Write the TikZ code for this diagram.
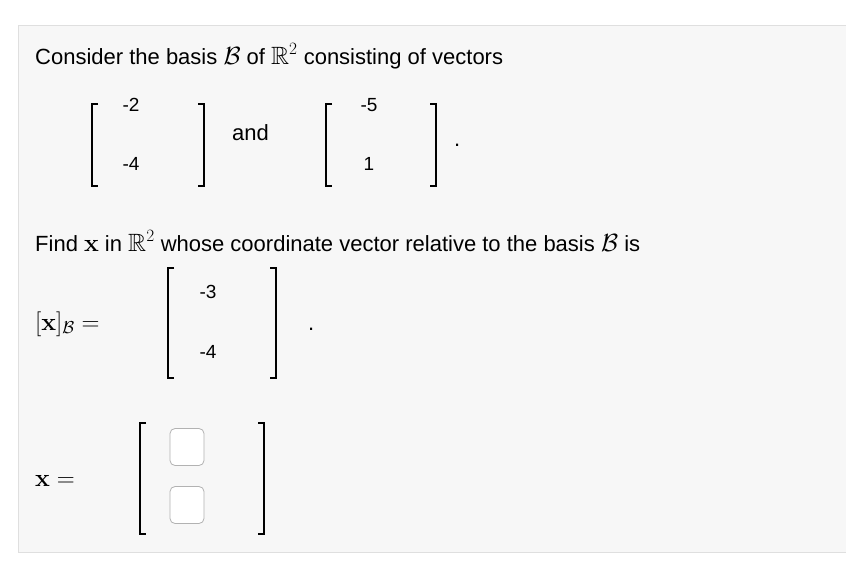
\documentclass[tikz,border=0pt]{standalone}
\usepackage{amssymb}
\usepackage[no-math]{fontspec}
\setmainfont{Liberation Sans}
\newcommand{\bm}[1]{{\fontsize{25}{28}\selectfont$#1$}}
\begin{document}
\begin{tikzpicture}[x=1pt,y=-1pt,
  txt/.style={inner sep=0pt,anchor=base west,font=\fontsize{22}{26}\selectfont},
  ent/.style={inner sep=0pt,anchor=base,font=\fontsize{19}{22}\selectfont},
  brk/.style={line width=1.3pt,black},
  ansbox/.style={draw=gray!60,line width=0.8pt,rounded corners=5pt,fill=white}]
\useasboundingbox (0,0) rectangle (846,584);
\fill[white] (0,0) rectangle (846,584);
\draw[draw=gray!25,fill=gray!6] (18,25) rectangle (846,552);
\node[txt] (t1) at (35,64) {Consider the basis \bm{\mathcal{B}} of \bm{\mathbb{R}^2} consisting of vectors};
\draw[brk] (98,104)--(92,104)--(92,186)--(98,186);
\draw[brk] (198,104)--(204,104)--(204,186)--(198,186);
\node[ent] (a1) at (131,111) {-2};
\node[ent] (a2) at (131,170) {-4};
\node[txt] (and) at (232,140) {and};
\draw[brk] (332,104)--(326,104)--(326,186)--(332,186);
\draw[brk] (430,104)--(436,104)--(436,186)--(430,186);
\node[ent] (b1) at (369,111) {-5};
\node[ent] (b2) at (369,170) {1};
\node[txt] (p1) at (454,146) {.};
\node[txt] (t2) at (35,251) {Find \bm{\mathbf{x}} in \bm{\mathbb{R}^2} whose coordinate vector relative to the basis \bm{\mathcal{B}} is};
\node[txt] (xb) at (35,330) {\bm{[\mathbf{x}]_{\mathcal{B}} =}};
\draw[brk] (174,268)--(168,268)--(168,378)--(174,378);
\draw[brk] (270,268)--(276,268)--(276,378)--(270,378);
\node[ent] (c1) at (208,298) {-3};
\node[ent] (c2) at (208,358) {-4};
\node[txt] (p2) at (308,330) {.};
\node[txt] (xe) at (35,486) {\bm{\mathbf{x} =}};
\draw[brk] (146,423)--(140,423)--(140,534)--(146,534);
\draw[brk] (258,423)--(264,423)--(264,534)--(258,534);
\node[ansbox,minimum width=34pt,minimum height=37pt] (bx1) at (187,447) {};
\node[ansbox,minimum width=34pt,minimum height=37pt] (bx2) at (187,505) {};
\end{tikzpicture}
\end{document}
